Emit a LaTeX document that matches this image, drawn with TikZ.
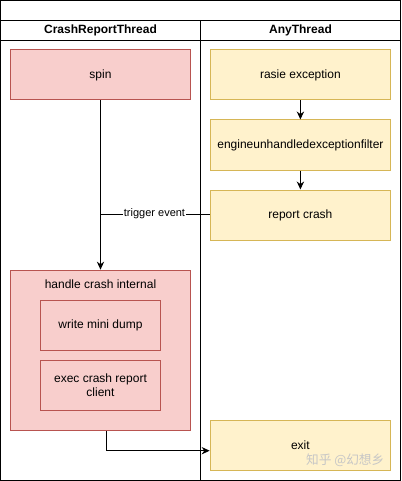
\documentclass[tikz,border=0pt]{standalone}
\usepackage{fontspec}
\setmainfont{Liberation Sans}
\newfontfamily\cjk{Noto Sans CJK SC}
\usetikzlibrary{arrows.meta}
\definecolor{redfill}{HTML}{F8CECC}
\definecolor{redline}{HTML}{B85450}
\definecolor{yelfill}{HTML}{FFF2CC}
\definecolor{yelline}{HTML}{D6B656}
\tikzset{
  redbox/.style={draw=redline, fill=redfill, line width=0.75pt, align=center, font=\fontsize{9}{10.5}\selectfont},
  yelbox/.style={draw=yelline, fill=yelfill, line width=0.75pt, align=center, font=\fontsize{9}{10.5}\selectfont},
  lane/.style={draw=black, line width=0.9pt},
  hdr/.style={font=\fontsize{9}{10.5}\selectfont\bfseries},
  conn/.style={draw=black, line width=0.75pt, -{Stealth[length=6pt,width=5.5pt]}},
  plain/.style={draw=black, line width=0.75pt},
}
\begin{document}
\begin{tikzpicture}[x=0.75pt,y=-0.75pt]
\useasboundingbox (0,0) rectangle (401,481);
% frame
\draw[lane] (0.6,0.6) rectangle (400.4,480.4);
\draw[lane] (0.6,20.7) -- (400.4,20.7);
\draw[lane] (0.6,40.7) -- (400.4,40.7);
\draw[lane] (200.5,20.7) -- (200.5,480.4);
\node[hdr] (h1) at (100.5,30.7) {CrashReportThread};
\node[hdr] (h2) at (300.5,30.7) {AnyThread};
% left lane
\node[redbox, minimum width=180.5*0.75pt, minimum height=50*0.75pt] (spin) at (100.5,75) {spin};
\node[redbox, minimum width=180.5*0.75pt, minimum height=160.5*0.75pt] (hci) at (100.5,350.4) {};
\node[font=\fontsize{9}{10.5}\selectfont] (hcit) at (100.5,284) {handle crash internal};
\node[redbox, minimum width=119.5*0.75pt, minimum height=49.5*0.75pt] (wmd) at (100.5,325.4) {write mini dump};
\node[redbox, minimum width=119.5*0.75pt, minimum height=50*0.75pt] (ecrc) at (100.5,385) {exec crash report\\client};
% right lane
\node[yelbox, minimum width=180.5*0.75pt, minimum height=50*0.75pt] (rasie) at (300.4,75) {rasie exception};
\node[yelbox, minimum width=180.5*0.75pt, minimum height=50*0.75pt] (eng) at (300.4,145) {engineunhandledexceptionfilter};
\node[yelbox, minimum width=180.5*0.75pt, minimum height=50*0.75pt] (rep) at (300.4,215) {report crash};
\node[yelbox, minimum width=180.5*0.75pt, minimum height=50.5*0.75pt] (exit) at (300.4,445.3) {exit};
% connectors
\draw[conn] (rasie) -- (eng);
\draw[conn] (eng) -- (rep);
\draw[conn] (spin) -- (hci);
\coordinate (tj) at (100.5,214);
\draw[plain] (rep.west |- tj) -- (tj);
\node[fill=white, inner sep=0.8pt, font=\fontsize{8.25}{9.5}\selectfont] (trig) at (154.5,213.5) {trigger event};
\coordinate (bend) at (106.3,450.7);
\draw[conn] (hci.south -| bend) -- (bend) -- (exit.west |- bend);
% watermark
\node[text=gray!45, font=\cjk\fontsize{9.5}{11}\selectfont, anchor=east] (wm) at (389,460) {知乎 @幻想乡};
\end{tikzpicture}
\end{document}
